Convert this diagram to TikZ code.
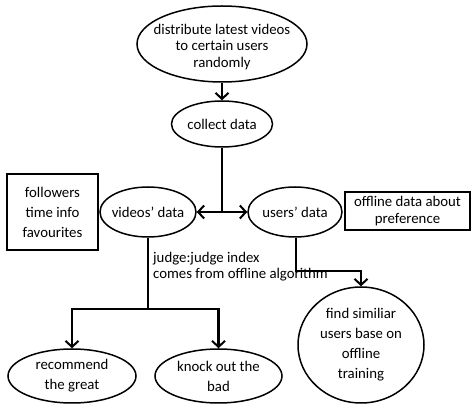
\documentclass[tikz,border=0pt]{standalone}
\usepackage{fontspec}
\setmainfont{Carlito}
\usetikzlibrary{shapes.geometric,arrows.meta}
\begin{document}
\begin{tikzpicture}[x=1pt,y=-1pt,
  ell/.style={ellipse,draw,line width=1.5pt,inner sep=0pt},
  lab/.style={align=center,font=\fontsize{14.8}{16.5}\selectfont,inner sep=0pt},
  labw/.style={align=center,font=\fontsize{14.8}{20}\selectfont,inner sep=0pt},
  boxnode/.style={rectangle,draw,line width=1.5pt,inner sep=0pt},
  conn/.style={line width=2.6pt},
  arr/.style={-{Straight Barb[length=6pt,width=13pt,line width=2pt]}},
  arrb/.style={{Straight Barb[length=6pt,width=13pt,line width=2pt]}-{Straight Barb[length=6pt,width=13pt,line width=2pt]}}
]
\useasboundingbox (0,0) rectangle (474,411);
\fill[white] (0,0) rectangle (474,411);

\node[ell,minimum width=170pt,minimum height=76pt,label={[lab,yshift=-3pt]center:{distribute latest videos\\to certain users\\randomly}}] (top) at (222,44) {};
\node[ell,minimum width=101pt,minimum height=46pt,label={[lab]center:collect data}] (col) at (222,124) {};
\node[ell,minimum width=96pt,minimum height=50pt,label={[lab]center:videos{\char"27} data}] (vid) at (148,212) {};
\node[ell,minimum width=94pt,minimum height=50pt,label={[lab]center:users{\char"27} data}] (usr) at (295,212) {};
\node[boxnode,minimum width=91pt,minimum height=76pt,label={[labw]center:{followers\\time info\\favourites}}] (fol) at (52.5,212) {};
\node[boxnode,minimum width=125pt,minimum height=38pt,label={[lab]center:{offline data about\\preference}}] (off) at (407.5,211) {};
\node[ell,minimum width=128pt,minimum height=54pt,label={[labw]center:{recommend\\the great}}] (rec) at (72,376) {};
\node[ell,minimum width=127pt,minimum height=54pt,label={[labw]center:{knock out the\\bad}}] (kno) at (218.5,376) {};
\node[ell,minimum width=126pt,minimum height=116pt,label={[labw]center:{find similiar\\users base on\\offline\\training}}] (fnd) at (361,345) {};

\coordinate (split) at (148,309);
\coordinate (ubend) at (296,271);

\draw[conn,arr] (top.south) -- (col.north);
\draw[conn] (col.south) -- (col.south |- vid.east);
\draw[conn,arrb] (vid.east) -- (usr.west);
\draw[conn] (vid.south) -- (split);
\draw[conn,arr] (split) -| (rec.north);
\draw[conn,arr] (split) -| (kno.north);
\draw[conn,arr] (usr.south -| ubend) -- (ubend) -| (fnd.north);

\node[lab,align=left,anchor=north west] (jdg) at (153,252) {judge:judge index\\comes from offline algorithm};
\end{tikzpicture}
\end{document}
